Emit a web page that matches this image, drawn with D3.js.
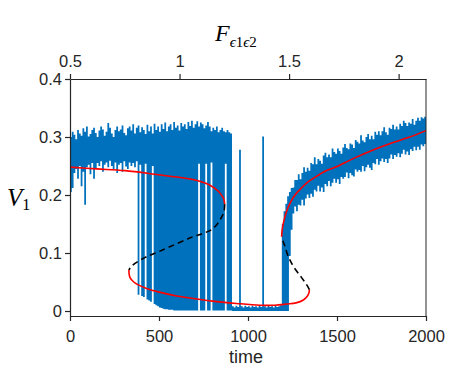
<!DOCTYPE html>
<meta charset="utf-8" />
<script src="https://d3js.org/d3.v7.min.js"></script>
<style>
  body { margin: 0; background: #ffffff; }
  .tick text { font-family: "Liberation Sans", Arial, Helvetica, sans-serif; }
</style>
<div id="my_dataviz"></div>
<script>
  // time bins (every 10 time units) and the blue signal's envelope in each bin
  var timeBins = d3.range(0, 2001, 10);
  var bandHigh = [
    // 0 - 370
    0.300, 0.309, 0.304, 0.296, 0.312, 0.306, 0.302, 0.315, 0.309, 0.318,
    0.301, 0.305, 0.312, 0.316, 0.307, 0.300, 0.311, 0.318, 0.313, 0.302,
    0.309, 0.324, 0.316, 0.306, 0.300, 0.312, 0.318, 0.310, 0.313, 0.320,
    0.307, 0.303, 0.315, 0.318, 0.311, 0.322, 0.306, 0.316,
    // 380 - 900
    0.320, 0.308, 0.317, 0.312, 0.305, 0.321, 0.310, 0.318, 0.306, 0.323,
    0.312, 0.318, 0.309, 0.322, 0.314, 0.325, 0.310, 0.318, 0.322, 0.312,
    0.326, 0.316, 0.320, 0.311, 0.324, 0.318, 0.322, 0.314, 0.326, 0.319,
    0.328, 0.316, 0.322, 0.327, 0.318, 0.325, 0.322, 0.315, 0.320, 0.326,
    0.318, 0.310, 0.316, 0.312, 0.318, 0.308, 0.312, 0.316, 0.310, 0.308,
    0.312, 0.308, 0.306,
    // 910 - 1240
    0.008, 0.006, 0.009, 0.007, 0.278, 0.008, 0.006, 0.009, 0.007, 0.008,
    0.006, 0.009, 0.007, 0.008, 0.006, 0.009, 0.007, 0.301, 0.008, 0.006,
    0.009, 0.007, 0.008, 0.006, 0.009, 0.007, 0.008, 0.010,
    0.150, 0.172, 0.185, 0.198, 0.205, 0.212,
    // 1250 - 2000
    0.213, 0.226, 0.226, 0.236, 0.227, 0.238, 0.248, 0.240, 0.247, 0.242,
    0.255, 0.253, 0.265, 0.253, 0.262, 0.259, 0.254, 0.268, 0.273, 0.265,
    0.270, 0.265, 0.280, 0.274, 0.271, 0.280, 0.276, 0.271, 0.282, 0.288,
    0.281, 0.279, 0.289, 0.287, 0.281, 0.295, 0.292, 0.289, 0.303, 0.294,
    0.291, 0.300, 0.305, 0.296, 0.302, 0.296, 0.309, 0.304, 0.310, 0.303,
    0.310, 0.317, 0.308, 0.304, 0.316, 0.314, 0.321, 0.313, 0.318, 0.313,
    0.323, 0.319, 0.328, 0.324, 0.319, 0.325, 0.323, 0.331, 0.321, 0.328,
    0.333, 0.328, 0.334, 0.332, 0.335, 0.334
  ];
  var bandLow = [
    // 0 - 370
    0.205, 0.212, 0.238, 0.245, 0.228, 0.250, 0.215, 0.240, 0.183, 0.248,
    0.252, 0.236, 0.255, 0.228, 0.245, 0.255, 0.250, 0.258, 0.240, 0.252,
    0.256, 0.248, 0.259, 0.250, 0.244, 0.256, 0.238, 0.252, 0.255, 0.240,
    0.258, 0.249, 0.245, 0.256, 0.250, 0.255, 0.248, 0.258,
    // 380 - 900
    0.028, 0.252, 0.026, 0.024, 0.254, 0.020, 0.018, 0.016, 0.250, 0.012,
    0.010, 0.008, 0.006, 0.005, 0.004, 0.003, 0.003, 0.002, 0.002, 0.002,
    0.001, 0.001, 0.001, 0.001, 0.001, 0.001, 0.001, 0.001, 0.001, 0.001,
    0.001, 0.001, 0.001, 0.001, 0.254, 0.001, 0.001, 0.001, 0.254, 0.001,
    0.001, 0.256, 0.001, 0.001, 0.001, 0.001, 0.001, 0.001, 0.001, 0.254,
    0.001, 0.001, 0.001,
    // 910 - 1240
    0.000, 0.000, 0.000, 0.000, 0.000, 0.000, 0.000, 0.000, 0.000, 0.000,
    0.000, 0.000, 0.000, 0.000, 0.000, 0.000, 0.000, 0.000, 0.000, 0.000,
    0.000, 0.000, 0.000, 0.000, 0.000, 0.000, 0.000, 0.000,
    0.000, 0.000, 0.000, 0.000, 0.095, 0.140,
    // 1250 - 2000
    0.168, 0.180, 0.172, 0.183, 0.182, 0.192, 0.182, 0.194, 0.201, 0.195,
    0.202, 0.197, 0.209, 0.206, 0.216, 0.206, 0.213, 0.205, 0.219, 0.215,
    0.224, 0.215, 0.221, 0.228, 0.221, 0.227, 0.219, 0.231, 0.228, 0.231,
    0.239, 0.229, 0.238, 0.234, 0.232, 0.244, 0.240, 0.243, 0.240, 0.250,
    0.241, 0.248, 0.252, 0.247, 0.243, 0.255, 0.253, 0.262, 0.252, 0.258,
    0.263, 0.257, 0.262, 0.255, 0.263, 0.270, 0.262, 0.269, 0.266, 0.272,
    0.265, 0.271, 0.278, 0.270, 0.275, 0.269, 0.279, 0.276, 0.283, 0.277,
    0.283, 0.278, 0.287, 0.284, 0.288, 0.292
  ];

  // bifurcation curve pieces, [time, V1]
  var stableUpper = [[0, 0.248], [150, 0.245], [309, 0.242], [496, 0.235], [600, 0.231],
    [684, 0.227], [779, 0.218], [835, 0.206], [855, 0.198], [863, 0.194], [869, 0.184]];
  var unstableMid = [[869, 0.184], [866, 0.173], [854, 0.163], [830, 0.151], [798, 0.141],
    [750, 0.134], [684, 0.127], [600, 0.116], [496, 0.102], [420, 0.092], [365, 0.082],
    [342, 0.076], [331, 0.071]];
  var stableLower = [[331, 0.071], [332, 0.064], [338, 0.057], [358, 0.050], [384, 0.045],
    [430, 0.039], [496, 0.033], [600, 0.026], [684, 0.022], [800, 0.017], [936, 0.013],
    [1067, 0.010], [1150, 0.010], [1217, 0.012], [1270, 0.014], [1311, 0.019],
    [1332, 0.025], [1342, 0.031], [1345, 0.037]];
  var unstableRight = [[1345, 0.037], [1330, 0.045], [1300, 0.058], [1255, 0.077],
    [1225, 0.095], [1208, 0.111], [1195, 0.122], [1189, 0.128]];
  var stableRight = [[1189, 0.128], [1192, 0.140], [1199, 0.152], [1217, 0.172],
    [1240, 0.188], [1264, 0.200], [1300, 0.212], [1339, 0.223], [1400, 0.235],
    [1433, 0.241], [1500, 0.249], [1526, 0.253], [1600, 0.264], [1713, 0.279],
    [1800, 0.289], [1900, 0.299], [2000, 0.311]];

  var timeTicks = [0, 500, 1000, 1500, 2000];
  var forceTicks = [0.5, 1, 1.5, 2];
  var vTicks = [0, 0.1, 0.2, 0.3, 0.4];

  var svg = d3.select("#my_dataviz").append("svg")
    .attr("width", 474).attr("height", 378);

  var x = d3.scaleLinear().domain([0, 2000]).range([70, 426]);
  var xTop = d3.scaleLinear().domain([0.5, 2.125]).range([70, 426]);
  var y = d3.scaleLinear().domain([-0.0086, 0.4]).range([316, 79]);

  // noisy signal
  var band = d3.area()
    .curve(d3.curveStepAfter)
    .x(function (d, i) { return x(timeBins[i]); })
    .y0(function (d, i) { return y(bandLow[i]); })
    .y1(function (d, i) { return y(bandHigh[i]); });
  svg.append("path")
    .datum(timeBins)
    .attr("d", band)
    .attr("fill", "#0072BD");

  var curve = d3.line()
    .curve(d3.curveCatmullRom)
    .x(function (d) { return x(d[0]); })
    .y(function (d) { return y(d[1]); });

  [stableUpper, stableLower, stableRight].forEach(function (seg) {
    svg.append("path").datum(seg).attr("d", curve)
      .attr("fill", "none").attr("stroke", "#ff0000").attr("stroke-width", 1.6);
  });
  [unstableMid, unstableRight].forEach(function (seg) {
    svg.append("path").datum(seg).attr("d", curve)
      .attr("fill", "none").attr("stroke", "#000000").attr("stroke-width", 1.6)
      .attr("stroke-dasharray", "6,4");
  });

  // axes
  var axisColor = "#262626";
  svg.append("g")
    .attr("transform", "translate(0,316)")
    .attr("color", axisColor)
    .call(d3.axisBottom(x).tickValues(timeTicks).tickSizeInner(5).tickSizeOuter(0).tickPadding(9)
      .tickFormat(d3.format("d")))
    .call(function (g) { g.selectAll("text").style("font-size", "16.5px"); });

  svg.append("g")
    .attr("transform", "translate(0,79)")
    .attr("color", axisColor)
    .call(d3.axisTop(xTop).tickValues(forceTicks).tickSizeInner(5).tickSizeOuter(0).tickPadding(7)
      .tickFormat(function (d) { return String(d); }))
    .call(function (g) { g.selectAll("text").style("font-size", "16.5px"); });

  svg.append("g")
    .attr("transform", "translate(70,0)")
    .attr("color", axisColor)
    .call(d3.axisLeft(y).tickValues(vTicks).tickSizeInner(5).tickSizeOuter(0).tickPadding(3)
      .tickFormat(function (d) { return d === 0 ? "0" : d3.format(".1f")(d); }))
    .call(function (g) { g.selectAll("text").style("font-size", "16.5px"); });

  svg.append("line")
    .attr("x1", x(2000)).attr("x2", x(2000))
    .attr("y1", y(0.4)).attr("y2", y(-0.0086))
    .attr("stroke", axisColor);

  svg.selectAll(".domain, .tick line").attr("stroke-width", 1.2);

  // labels
  svg.append("text")
    .attr("x", x(1000) - 2).attr("y", 363)
    .attr("text-anchor", "middle")
    .style("font-family", "'Liberation Sans', Arial, sans-serif")
    .style("font-size", "18px")
    .attr("fill", axisColor)
    .text("time");

  var fLabel = svg.append("text")
    .attr("x", 215).attr("y", 41)
    .style("font-family", "'Liberation Serif', 'DejaVu Serif', serif")
    .attr("fill", "#000");
  fLabel.append("tspan").style("font-style", "italic").style("font-size", "24px").text("F");
  fLabel.append("tspan").attr("dy", 6).style("font-style", "italic").style("font-size", "15px").text("\u03F5");
  fLabel.append("tspan").style("font-size", "15px").text("1");
  fLabel.append("tspan").style("font-style", "italic").style("font-size", "15px").text("\u03F5");
  fLabel.append("tspan").style("font-size", "15px").text("2");

  var vLabel = svg.append("text")
    .attr("x", 7).attr("y", 206)
    .style("font-family", "'Liberation Serif', 'DejaVu Serif', serif")
    .attr("fill", "#000");
  vLabel.append("tspan").style("font-style", "italic").style("font-size", "25px").text("V");
  vLabel.append("tspan").attr("dy", 4).style("font-size", "16px").text("1");
</script>
